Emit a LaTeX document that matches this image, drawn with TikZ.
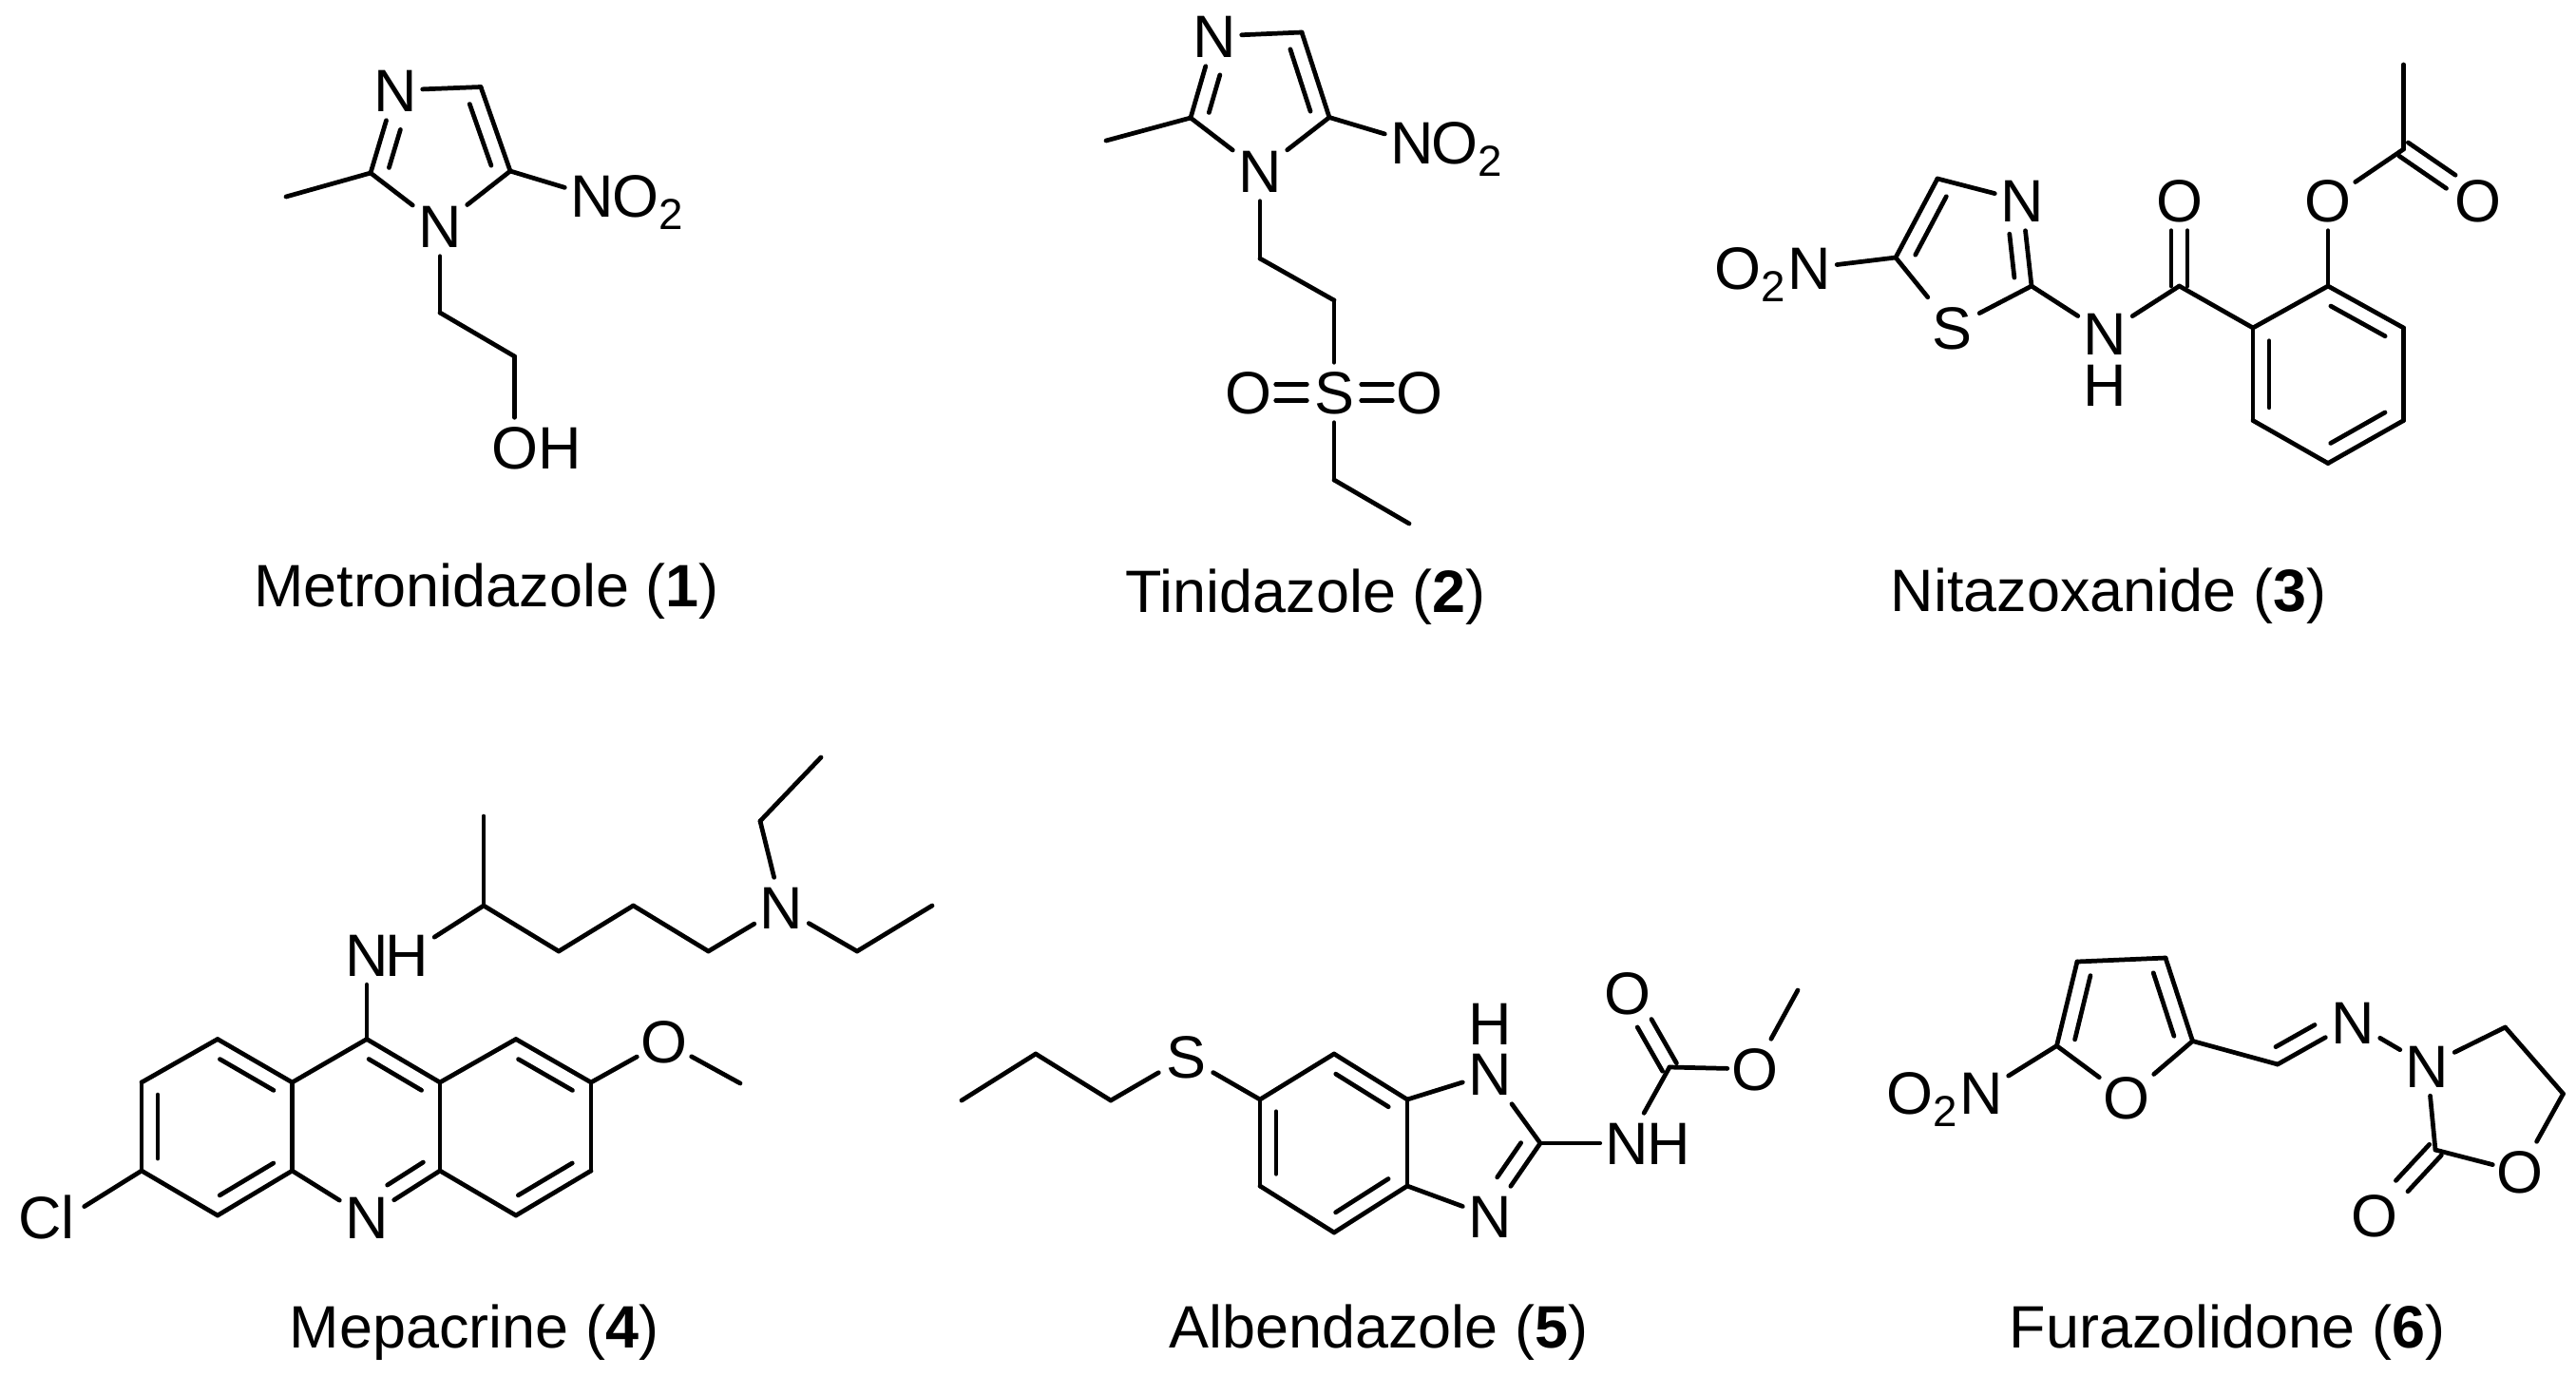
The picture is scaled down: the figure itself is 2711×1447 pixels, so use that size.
\documentclass[tikz,border=0pt]{standalone}
\usepackage{fontspec}
\setmainfont{Liberation Sans}
\usetikzlibrary{calc}

\tikzset{
  molfont/.style={font=\fontsize{17.9}{20}\selectfont},
  bond/.style={line width=1.35pt,line cap=round},
  atom/.style={molfont,inner sep=0pt,minimum width=0.56cm,minimum height=0.62cm,text height=0.45cm,text depth=0pt},
  topH/.style={atom,minimum height=0pt,text height=0.41cm},
  tail/.style={molfont,inner sep=0pt,text height=0.45cm,text depth=0pt},
  caption/.style={molfont,inner sep=0pt,anchor=base}
}
\newcommand{\subtwo}{\raisebox{-3.7pt}{\fontsize{13}{13}\selectfont 2}}
\newcommand{\innerbond}[4]{\draw[bond] ($(#1)!#3!(#2)!0.17cm!90:(#2)$) -- ($(#1)!#4!(#2)!0.17cm!90:(#2)$);}
\newcommand{\dblbond}[4]{%
  \draw[bond,transform canvas={shift={(#3,#4)}}] (#1) -- (#2);
  \draw[bond,transform canvas={shift={({-1*(#3)},{-1*(#4)})}}] (#1) -- (#2);}

\begin{document}
\begin{tikzpicture}[x=0.01cm,y=-0.01cm]
  \useasboundingbox (0,0) rectangle (2711,1447);

  % metronidazole
  \node[atom] (aN3) at (416,95) {N};
  \node[atom] (aN1) at (463,238) {N};
  \node[atom] (aN2) at (623,206) {N};
  \node[atom] (aO) at (541.5,471) {O};
  \node[atom] (aH) at (589,471) {H};
  \node[tail,anchor=west] (aO2) at (644,206) {O\subtwo};
  \coordinate (aC4) at (506,91.5);
  \coordinate (aC5) at (537,180);
  \coordinate (aC2) at (390,182);
  \coordinate (aMe) at (301,207);
  \coordinate (aC6) at (463,329);
  \coordinate (aC7) at (541.5,375);
  \foreach \u/\v in {aN3/aC4,aC4/aC5,aC5/aN1,aN1/aC2,aC2/aN3,aC2/aMe,aC5/aN2,aN1/aC6,aC6/aC7,aC7/aO}
    \draw[bond] (\u) -- (\v);
  \innerbond{aN3}{aC2}{0.42}{0.88}
  \innerbond{aC5}{aC4}{0.13}{0.86}
  \node[caption] (aCap) at (512,638.5) {Metronidazole (\textbf{1})};

  % tinidazole
  \node[atom] (bN3) at (1278,38) {N};
  \node[atom] (bN1) at (1326,180) {N};
  \node[atom] (bN2) at (1486,149.5) {N};
  \node[atom] (bS) at (1404,413) {S};
  \node[atom] (bOl) at (1314,413) {O};
  \node[atom] (bOr) at (1494,413) {O};
  \node[tail,anchor=west] (bO2) at (1506,149.5) {O\subtwo};
  \coordinate (bC4) at (1370,34);
  \coordinate (bC5) at (1399,123.5);
  \coordinate (bC2) at (1253,124);
  \coordinate (bMe) at (1164,148);
  \coordinate (bC6) at (1326,272);
  \coordinate (bC7) at (1404,316);
  \coordinate (bC8) at (1404,505);
  \coordinate (bC9) at (1483,551);
  \foreach \u/\v in {bN3/bC4,bC4/bC5,bC5/bN1,bN1/bC2,bC2/bN3,bC2/bMe,bC5/bN2,bN1/bC6,bC6/bC7,bC7/bS,bS/bC8,bC8/bC9}
    \draw[bond] (\u) -- (\v);
  \innerbond{bN3}{bC2}{0.42}{0.88}
  \innerbond{bC5}{bC4}{0.13}{0.86}
  \dblbond{bS}{bOl}{0}{8.5}
  \dblbond{bS}{bOr}{0}{8.5}
  \node[caption] (bCap) at (1374,644) {Tinidazole (\textbf{2})};

  % nitazoxanide
  \node[atom] (cN2) at (1904.5,282) {N};
  \node[atom] (cS) at (2054.5,344.5) {S};
  \node[atom] (cN3) at (2128,211) {N};
  \node[atom] (cNH) at (2215.5,351) {N};
  \node[topH] (cH) at (2215.5,407) {H};
  \node[atom] (cOa) at (2293.5,211) {O};
  \node[atom] (cOe) at (2450,211) {O};
  \node[atom] (cOk) at (2608,211) {O};
  \node[tail,anchor=east] (cO2) at (1880,282) {O\subtwo};
  \coordinate (cC4) at (2039,188);
  \coordinate (cC5) at (1995,271);
  \coordinate (cC2) at (2138,301);
  \coordinate (cCa) at (2293.5,301);
  \coordinate (cR1) at (2450,301);
  \coordinate (cR2) at (2371,345);
  \coordinate (cR3) at (2371,442.5);
  \coordinate (cR4) at (2450,487.5);
  \coordinate (cR5) at (2529.5,442.5);
  \coordinate (cR6) at (2529.5,345);
  \coordinate (cCk) at (2529.5,157);
  \coordinate (cMe) at (2529.5,68);
  \foreach \u/\v in {cN2/cC5,cC5/cC4,cC4/cN3,cN3/cC2,cC2/cS,cS/cC5,cC2/cNH,cNH/cCa,cCa/cR2,
                     cR1/cR2,cR2/cR3,cR3/cR4,cR4/cR5,cR5/cR6,cR6/cR1,cR1/cOe,cOe/cCk,cCk/cMe}
    \draw[bond] (\u) -- (\v);
  \innerbond{cC4}{cC5}{0.13}{0.87}
  \innerbond{cC2}{cN3}{0.12}{0.63}
  \innerbond{cR6}{cR1}{0.14}{0.86}
  \innerbond{cR2}{cR3}{0.14}{0.86}
  \innerbond{cR4}{cR5}{0.14}{0.86}
  \dblbond{cCa}{cOa}{8.5}{0}
  \dblbond{cCk}{cOk}{4.8}{-7}
  \node[caption] (cCap) at (2219,643) {Nitazoxanide (\textbf{3})};

  % mepacrine
  \node[atom,minimum width=0.78cm,minimum height=0.66cm] (dCl) at (49,1281) {Cl};
  \node[atom] (dN) at (386,1281) {N};
  \node[atom] (dNH) at (386,1004.5) {N};
  \node[atom] (dH) at (428.5,1004.5) {H};
  \node[atom] (dO) at (699,1096) {O};
  \node[atom] (dNe) at (822.5,955) {N};
  \coordinate (dA) at (229,1093.5);
  \coordinate (dB) at (149,1139);
  \coordinate (dC) at (149,1232);
  \coordinate (dD) at (229,1279);
  \coordinate (dE) at (307.5,1232);
  \coordinate (dF) at (307.5,1139);
  \coordinate (dG) at (386,1093.5);
  \coordinate (dI) at (463,1139);
  \coordinate (dJ) at (463,1232);
  \coordinate (dK) at (543,1093.5);
  \coordinate (dL) at (622,1139);
  \coordinate (dM) at (622,1232);
  \coordinate (dP) at (543,1279);
  \coordinate (dMe) at (779,1140);
  \coordinate (dT1) at (509,953);
  \coordinate (dT2) at (509,859);
  \coordinate (dT3) at (588,1001);
  \coordinate (dT4) at (666.5,953);
  \coordinate (dT5) at (745.5,1001);
  \coordinate (dE1) at (800,864);
  \coordinate (dE2) at (864,797);
  \coordinate (dE3) at (902,1001);
  \coordinate (dE4) at (981,953);
  \foreach \u/\v in {dA/dB,dB/dC,dC/dD,dD/dE,dE/dF,dF/dA,dF/dG,dG/dI,dI/dJ,dJ/dN,dN/dE,
                     dI/dK,dK/dL,dL/dM,dM/dP,dP/dJ,dL/dO,dO/dMe,dG/dNH,dT1/dH,dT1/dT2,
                     dT1/dT3,dT3/dT4,dT4/dT5,dT5/dNe,dNe/dE1,dE1/dE2,dNe/dE3,dE3/dE4}
    \draw[bond] (\u) -- (\v);
  \draw[bond] (dC) -- (dCl.16);
  \innerbond{dF}{dA}{0.14}{0.86}
  \innerbond{dB}{dC}{0.14}{0.86}
  \innerbond{dD}{dE}{0.14}{0.86}
  \innerbond{dI}{dG}{0.14}{0.86}
  \innerbond{dN}{dJ}{0.40}{0.89}
  \innerbond{dL}{dK}{0.14}{0.86}
  \innerbond{dP}{dM}{0.14}{0.86}
  \node[caption] (dCap) at (499,1418) {Mepacrine (\textbf{4})};

  % albendazole
  \node[atom] (eS) at (1248,1112) {S};
  \node[atom] (eN1) at (1568,1130) {N};
  \node[topH] (eH1) at (1568,1079) {H};
  \node[atom] (eN3) at (1568,1280) {N};
  \node[atom] (eNH) at (1712.5,1203) {N};
  \node[atom] (eH) at (1756,1203) {H};
  \node[atom] (eOd) at (1712.5,1045) {O};
  \node[atom] (eOs) at (1846.5,1125) {O};
  \coordinate (ePa) at (1012,1158);
  \coordinate (ePb) at (1090,1109);
  \coordinate (ePc) at (1169,1158);
  \coordinate (eR1) at (1326,1157);
  \coordinate (eR2) at (1404,1109);
  \coordinate (eR3) at (1481,1157);
  \coordinate (eR4) at (1481,1248);
  \coordinate (eR5) at (1404,1297);
  \coordinate (eR6) at (1326,1248);
  \coordinate (eC2) at (1621,1203);
  \coordinate (eCc) at (1757,1123);
  \coordinate (eMe) at (1892,1042);
  \foreach \u/\v in {ePa/ePb,ePb/ePc,ePc/eS,eS/eR1,eR1/eR2,eR2/eR3,eR3/eR4,eR4/eR5,eR5/eR6,eR6/eR1,
                     eR3/eN1,eN1/eC2,eC2/eN3,eN3/eR4,eC2/eNH,eNH/eCc,eCc/eOs,eOs/eMe}
    \draw[bond] (\u) -- (\v);
  \innerbond{eR1}{eR6}{0.14}{0.86}
  \innerbond{eR5}{eR4}{0.14}{0.86}
  \innerbond{eR3}{eR2}{0.14}{0.86}
  \innerbond{eN3}{eC2}{0.41}{0.88}
  \dblbond{eCc}{eOd}{7.4}{-4.2}
  \node[caption] (eCap) at (1451,1418) {Albendazole (\textbf{5})};

  % furazolidone
  \node[atom] (fN2) at (2085,1150) {N};
  \node[atom] (fO1) at (2238,1155) {O};
  \node[atom] (fNa) at (2476,1075.5) {N};
  \node[atom] (fNb) at (2554.5,1121.5) {N};
  \node[atom] (fO2) at (2652,1233) {O};
  \node[atom] (fOd) at (2499,1279) {O};
  \node[tail,anchor=east] (fO) at (2061,1150) {O\subtwo};
  \coordinate (fC5) at (2164.5,1100.5);
  \coordinate (fC4) at (2186,1012);
  \coordinate (fC3) at (2279,1008);
  \coordinate (fC2) at (2307.5,1095.5);
  \coordinate (fCH) at (2397,1120);
  \coordinate (fC6) at (2636.5,1081);
  \coordinate (fC7) at (2697.5,1151);
  \coordinate (fC8) at (2563,1210);
  \foreach \u/\v in {fC5/fN2,fC5/fC4,fC4/fC3,fC3/fC2,fC2/fO1,fO1/fC5,fC2/fCH,fCH/fNa,fNa/fNb,
                     fNb/fC6,fC6/fC7,fC7/fO2,fO2/fC8,fC8/fNb}
    \draw[bond] (\u) -- (\v);
  \innerbond{fC4}{fC5}{0.12}{0.88}
  \innerbond{fC2}{fC3}{0.12}{0.88}
  \innerbond{fCH}{fNa}{0.08}{0.60}
  \dblbond{fC8}{fOd}{6.3}{5.7}
  \node[caption] (fCap) at (2344,1418) {Furazolidone (\textbf{6})};
\end{tikzpicture}
\end{document}
